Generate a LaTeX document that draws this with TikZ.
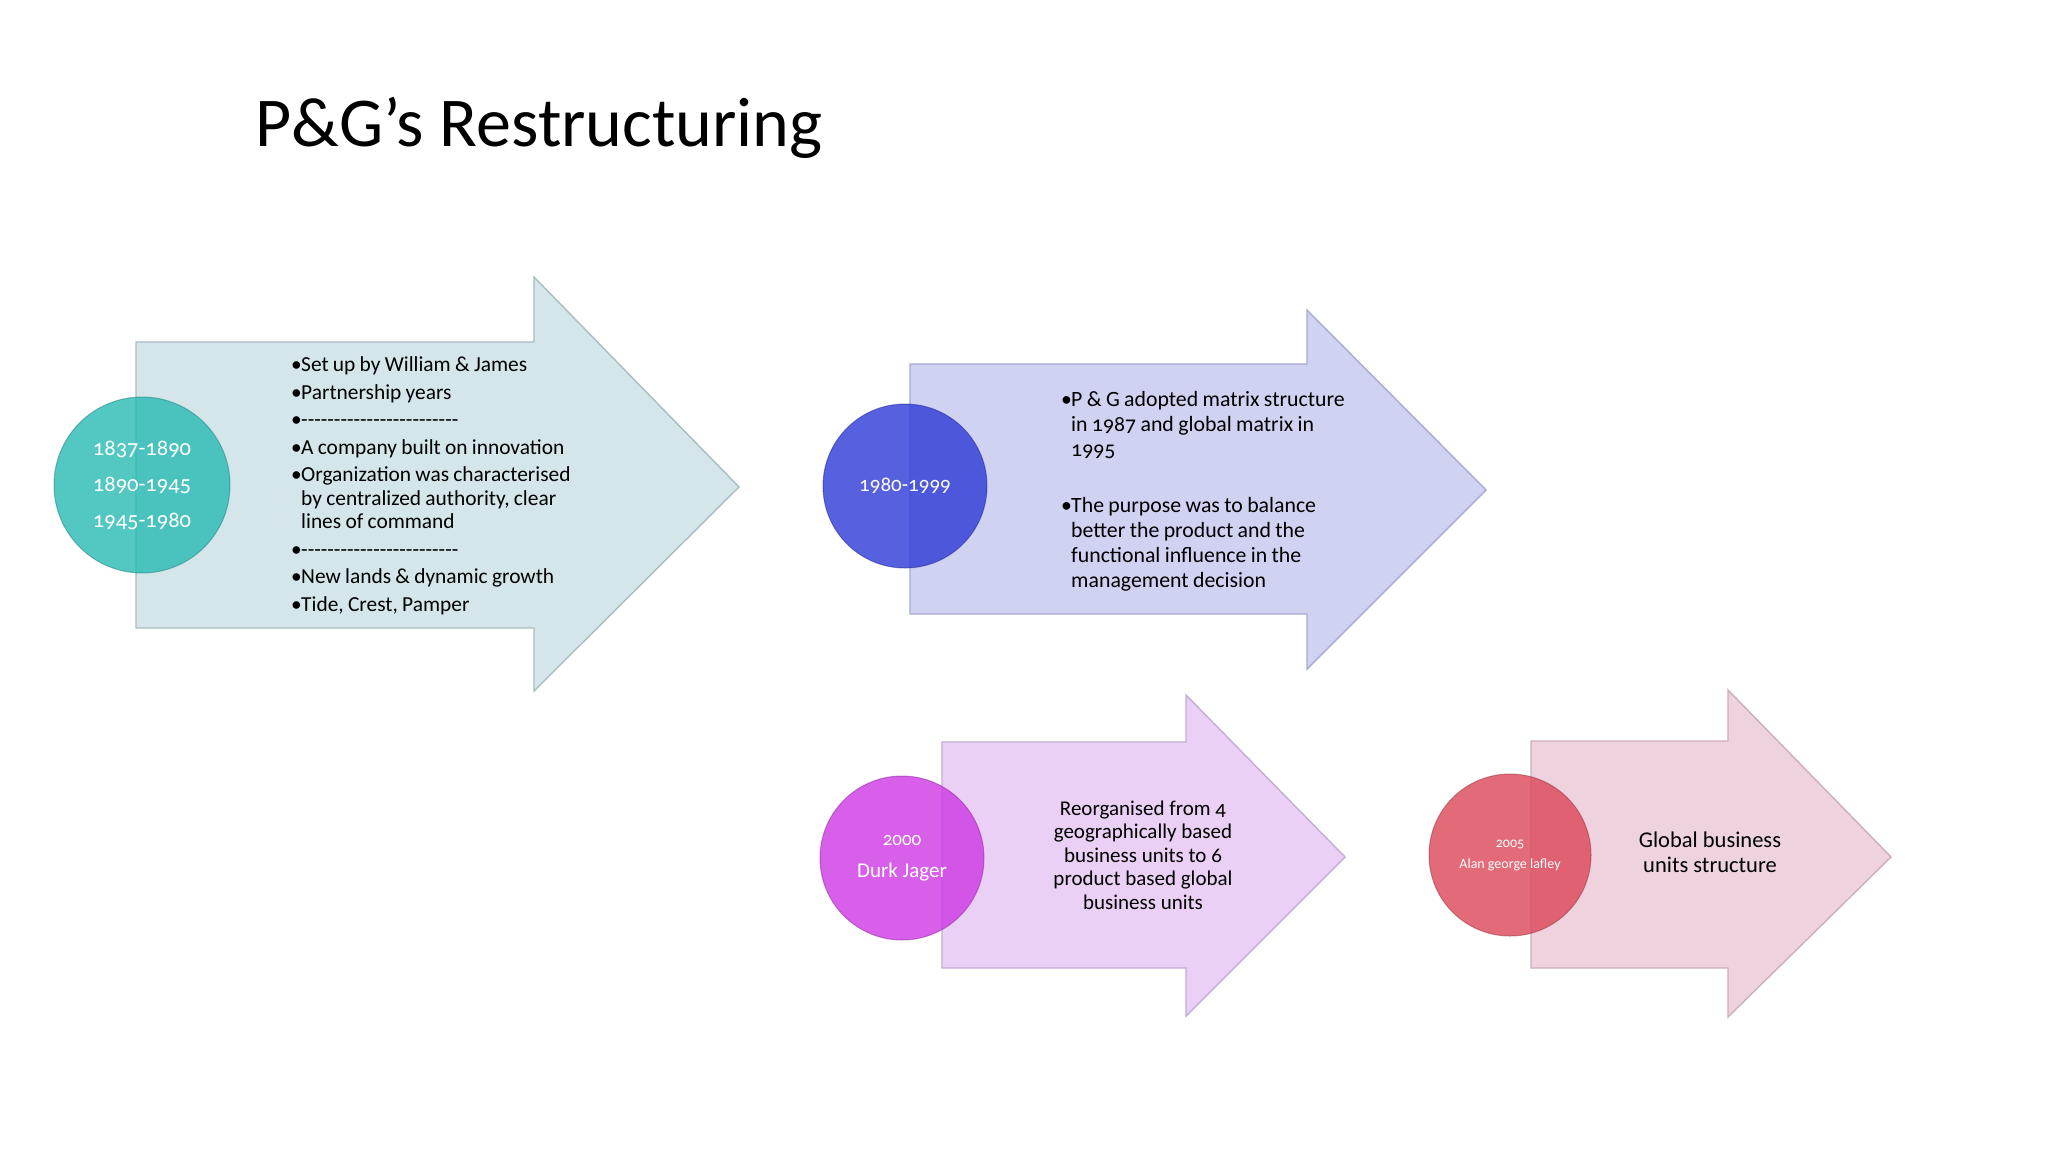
\documentclass[tikz,border=0pt]{standalone}
\usepackage{fontspec}
\setmainfont{Carlito}[Numbers=OldStyle]
\definecolor{aA}{RGB}{212,230,233}
\definecolor{aAe}{RGB}{168,190,194}
\definecolor{cA}{RGB}{40,186,178}
\definecolor{aB}{RGB}{208,210,242}
\definecolor{aBe}{RGB}{168,170,210}
\definecolor{cB}{RGB}{45,57,214}
\definecolor{aC}{RGB}{233,208,244}
\definecolor{aCe}{RGB}{198,172,212}
\definecolor{cC}{RGB}{206,55,228}
\definecolor{aD}{RGB}{238,210,222}
\definecolor{aDe}{RGB}{204,174,188}
\definecolor{cD}{RGB}{221,70,88}
\newcommand\bitem[1]{\par\hangindent=10pt\hangafter=1\noindent\makebox[10pt][l]{•}#1}
\newcommand\nl{\hfil\break}
\newcommand\dashrow{-{}-{}-{}-{}-{}-{}-{}-{}-{}-{}-{}-{}-{}-{}-{}-{}-{}-{}-{}-{}-{}-{}-{}-{}}
\begin{document}
\begin{tikzpicture}[x=1pt,y=-1pt,
  arrowshape/.style={line width=1.4pt, line join=miter},
  disc/.style={circle, inner sep=0pt, minimum size=#1, fill opacity=0.8, text opacity=1,
     draw opacity=0.5, line width=1pt, text=white, align=center},
  bodytext/.style={inner sep=0pt, text=black, align=left, text width=#1},
  ctext/.style={inner sep=0pt, text=black, align=center}]
\useasboundingbox[fill=white] (0,0) rectangle (2048,1152);

% title
\node[inner sep=0pt, anchor=base west, font=\fontsize{70}{80}\selectfont] (title) at (255,146) {P\&G’s Restructuring};

% arrow shapes
\path[arrowshape, fill=aA, draw=aAe] (136,342) -- (534,342) -- (534,277) -- (739,487) -- (534,691) -- (534,628) -- (136,628) -- cycle;
\path[arrowshape, fill=aB, draw=aBe] (910,364) -- (1307,364) -- (1307,310) -- (1486,490) -- (1307,669) -- (1307,614) -- (910,614) -- cycle;
\path[arrowshape, fill=aC, draw=aCe] (942,742) -- (1186,742) -- (1186,695) -- (1345,857) -- (1186,1016) -- (1186,968) -- (942,968) -- cycle;
\path[arrowshape, fill=aD, draw=aDe] (1531,741) -- (1728,741) -- (1728,690) -- (1891,857) -- (1728,1017) -- (1728,968) -- (1531,968) -- cycle;

% discs
\node[disc=176pt, fill=cA, draw=cA!70!black, font=\fontsize{22.5}{36}\selectfont] (d1) at (142,485) {1837-1890\\1890-1945\\1945-1980};
\node[disc=164pt, fill=cB, draw=cB!70!black, font=\fontsize{21}{24}\selectfont] (d2) at (905,486) {1980-1999};
\node[disc=164pt, fill=cC, draw=cC!70!black] (d3) at (902,858) {{\fontsize{19}{22}\selectfont 2000}\\[16pt]{\fontsize{21}{24}\selectfont Durk Jager}};
\node[disc=162pt, fill=cD, draw=cD!70!black, font=\fontsize{14}{21}\selectfont] (d4) at (1510,855) {2005\\Alan george lafley};

% texts
\node[bodytext=330pt, anchor=north west, font=\fontsize{21.4}{23.5}\selectfont] (t1) at (291,348) {%
\spaceskip=.2em plus .08em minus .03em
\bitem{Set up by William \& James}\par\vskip4pt
\bitem{Partnership years}\par\vskip4pt
\bitem{\dashrow}\par\vskip4pt
\bitem{A company built on innovation}\par\vskip4pt
\bitem{Organization was characterised\nl by centralized authority, clear\nl lines of command}\par\vskip4pt
\bitem{\dashrow}\par\vskip4pt
\bitem{New lands \& dynamic growth}\par\vskip4pt
\bitem{Tide, Crest, Pamper}\par};

\node[bodytext=340pt, anchor=north west, font=\fontsize{21.8}{25}\selectfont] (t2) at (1061,381) {%
\spaceskip=.2em plus .08em minus .03em
\bitem{P \& G adopted matrix structure\nl in 1987 and global matrix in\nl 1995}\par\vskip31pt
\bitem{The purpose was to balance\nl better the product and the\nl functional influence in the\nl management decision}\par};

\node[ctext, font=\fontsize{21}{23.5}\selectfont] (t3) at (1143,855) {Reorganised from 4\\geographically based\\business units to 6\\product based global\\business units};

\node[ctext, font=\fontsize{22.5}{25}\selectfont] (t4) at (1710,852) {Global business\\units structure};
\end{tikzpicture}
\end{document}
